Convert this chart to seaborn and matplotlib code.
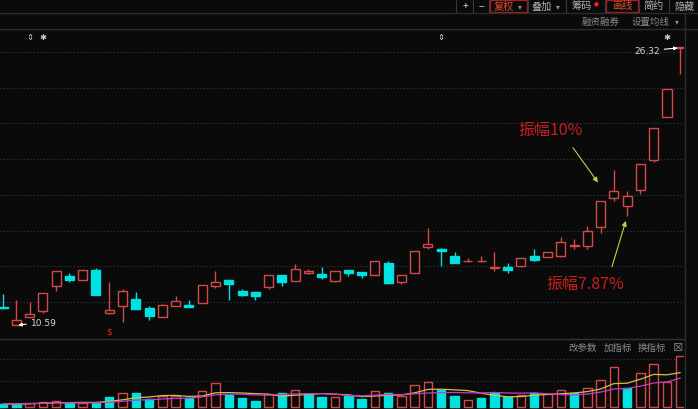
import matplotlib
matplotlib.use('Agg')
from matplotlib import pyplot as plt
from matplotlib.lines import Line2D
from matplotlib.patches import Rectangle
import matplotlib.transforms as mtransforms
import seaborn as sns
import numpy as np
import pandas as pd

# daily OHLC (price units)
opens = [11.64, 10.59, 11.04, 11.39, 12.81, 13.37, 13.15, 13.71, 11.27, 11.67,
         12.07, 11.56, 11.04, 11.67, 11.70, 11.84, 12.81, 13.15, 12.52, 12.46,
         12.75, 13.43, 13.09, 13.57, 13.49, 13.09, 13.71, 13.60, 13.43, 14.11,
         13.03, 13.54, 15.02, 14.88, 14.51, 14.20, 14.20, 13.85, 13.88, 13.94,
         14.51, 14.45, 14.51, 15.10, 15.08, 16.16, 17.80, 17.35, 18.26, 19.96,
         22.40, 26.32]
highs = [12.35, 12.01, 11.90, 12.41, 13.66, 13.54, 13.71, 13.83, 13.03, 12.63,
         12.46, 11.67, 11.78, 12.24, 12.01, 12.86, 13.66, 13.15, 12.63, 12.46,
         13.43, 13.43, 14.05, 13.77, 13.88, 13.66, 13.71, 13.60, 14.23, 14.23,
         13.43, 14.79, 16.10, 14.96, 14.74, 14.40, 14.51, 14.74, 14.11, 14.40,
         14.91, 14.74, 15.59, 15.47, 16.21, 17.63, 19.39, 18.20, 19.73, 21.78,
         23.99, 26.32]
lows = [11.50, 10.59, 11.04, 11.27, 12.52, 13.03, 13.15, 12.29, 11.22, 10.76,
        11.50, 10.87, 11.04, 11.67, 11.61, 11.84, 12.69, 12.01, 12.24, 12.01,
        12.63, 12.81, 13.09, 13.49, 13.20, 13.03, 13.37, 13.26, 13.43, 12.92,
        12.92, 13.54, 14.91, 13.94, 14.11, 14.17, 14.17, 13.66, 13.54, 13.88,
        14.23, 14.45, 14.45, 14.91, 14.91, 15.82, 17.63, 16.78, 18.03, 19.85,
        22.40, 24.84]
closes = [11.58, 10.87, 11.22, 12.41, 13.66, 13.15, 13.71, 12.29, 11.44, 12.52,
          11.50, 11.10, 11.73, 11.95, 11.64, 12.86, 13.03, 12.92, 12.29, 12.24,
          13.43, 13.03, 13.77, 13.63, 13.32, 13.66, 13.54, 13.43, 14.23, 12.98,
          13.43, 14.79, 15.19, 14.82, 14.11, 14.25, 14.23, 13.88, 13.71, 14.40,
          14.28, 14.74, 15.30, 15.16, 15.93, 17.63, 18.20, 17.92, 19.73, 21.78,
          23.99, 26.32]
volumes = [3, 3, 4, 5, 6, 4, 4, 4, 10, 14,
           14, 8, 11, 11, 9, 16, 24, 12, 9, 6,
           13, 14, 17, 13, 10, 10, 11, 8, 16, 14,
           11, 22, 25, 17, 11, 7, 9, 14, 10, 12,
           14, 13, 17, 14, 19, 27, 40, 19, 34, 43,
           25, 51]

toolbar = ['+', '−', '复权', '叠加', '筹码', '画线', '简约', '隐藏']
notes = ['振幅10%', '振幅7.87%']

BG = '#0a0a0a'
RED = '#d64848'
CYAN = '#00e2e2'
GRID = '#3a3a3a'
GRAY = '#8c8c8c'
W, H = 698, 410


def px(x, y):
    return x / W, 1 - y / H


def DrawCandles(ax, df):
    for _, r in df.iterrows():
        i = r['idx']
        top = max(r['open'], r['close'])
        bot = min(r['open'], r['close'])
        h = max(top - bot, 0.03)
        if r['up']:
            ax.vlines(i, top, r['high'], color=RED, lw=1, zorder=2)
            ax.vlines(i, r['low'], bot, color=RED, lw=1, zorder=2)
            ax.bar(i, h, bottom=bot, width=0.68, facecolor=BG, edgecolor=RED, lw=1, zorder=3)
        else:
            ax.vlines(i, r['low'], r['high'], color=CYAN, lw=1, zorder=2)
            ax.bar(i, h, bottom=bot, width=0.68, facecolor=CYAN, edgecolor=CYAN, lw=1, zorder=3)


def main():
    sns.set_style('dark')
    plt.rcParams['font.family'] = ['Noto Sans CJK SC', 'DejaVu Sans']
    plt.rcParams['axes.unicode_minus'] = False

    df = pd.DataFrame({'open': opens, 'high': highs, 'low': lows,
                       'close': closes, 'vol': volumes})
    df['idx'] = np.arange(len(df))
    prev = df['close'].shift(1)
    df['up'] = np.where(df['close'] > df['open'], True,
                        np.where(df['close'] < df['open'], False, df['close'] > prev))
    df['vol_up'] = df['close'] > prev
    df['ma5'] = df['vol'].rolling(5, min_periods=1).mean()
    df['ma10'] = df['vol'].rolling(10, min_periods=1).mean()

    fig = plt.figure(figsize=(W / 100, H / 100), dpi=100, facecolor=BG)
    ax = fig.add_axes([0, 70 / H, 684 / W, 310 / H], facecolor=BG)
    axv = fig.add_axes([0, 0, 684 / W, 70 / H], facecolor=BG)
    xlim = (-3 / 13.28, 681 / 13.28)

    # main panel
    for f in np.arange(0.0742, 0.99, 0.1153):
        ax.plot([0, 1], [1 - f, 1 - f], transform=ax.transAxes, color=GRID,
                lw=0.8, ls=(0, (1, 2)), zorder=1)
    DrawCandles(ax, df)
    ax.set_xlim(*xlim)
    ax.set_ylim(9.795, 27.40)

    # max / min labels
    imax = int(df['high'].idxmax())
    imin = int(df['low'].idxmin())
    ax.annotate('%.2f' % df['high'][imax], xy=(imax - 0.2, df['high'][imax]),
                xytext=(-13, -2), textcoords='offset points', ha='right', va='center',
                color='#d8d8d8', fontsize=6.5, family='DejaVu Sans',
                arrowprops=dict(arrowstyle='-|>', color='white', lw=0.8,
                                mutation_scale=5, shrinkA=1, shrinkB=0))
    ax.annotate('%.2f' % df['low'][imin], xy=(imin + 0.15, df['low'][imin]),
                xytext=(9, 2), textcoords='offset points', ha='left', va='center',
                color='#d8d8d8', fontsize=6.5, family='DejaVu Sans',
                arrowprops=dict(arrowstyle='-|>', color='white', lw=0.8,
                                mutation_scale=5, shrinkA=1, shrinkB=0))

    # amplitude notes
    ax.annotate('', xy=(46 - 1.2, df['high'][46] - 0.7), xytext=(-18, 25),
                textcoords='offset points',
                arrowprops=dict(arrowstyle='-|>', color='#cccc40', lw=0.8,
                                mutation_scale=7, shrinkA=0, shrinkB=0))
    ax.annotate(notes[0], xy=(46 - 1.2, df['high'][46] - 0.7), xytext=(-57, 38),
                textcoords='offset points', ha='left', va='center',
                color='#c81e1e', fontsize=11.5)
    ax.annotate('', xy=(47 - 0.1, df['low'][47] - 0.28), xytext=(-10, -33),
                textcoords='offset points',
                arrowprops=dict(arrowstyle='-|>', color='#cccc40', lw=0.8,
                                mutation_scale=7, shrinkA=0, shrinkB=0))
    ax.annotate(notes[1], xy=(47 - 0.1, df['low'][47] - 0.28), xytext=(-57, -45),
                textcoords='offset points', ha='left', va='center',
                color='#c81e1e', fontsize=11.5)

    # event markers
    tr = mtransforms.blended_transform_factory(ax.transData, ax.transAxes)
    for i, m in [(2, '⇕'), (3, '✱'), (33, '⇕'), (50, '✱')]:
        ax.text(i, 0.977, m, transform=tr, ha='center', va='center',
                color='#d0d0d0', fontsize=6, family='DejaVu Sans')
    ax.text(8, 0.026, '$', transform=tr, ha='center', va='center',
            color='#e02020', fontsize=6.5, family='DejaVu Sans')

    # volume panel
    for v in [26, 48]:
        axv.axhline(v, color=GRID, lw=0.8, ls=(0, (1, 2)), zorder=1)
    for _, r in df.iterrows():
        if r['vol_up']:
            axv.bar(r['idx'], r['vol'], width=0.64, facecolor=BG, edgecolor=RED, lw=1, zorder=3)
        else:
            axv.bar(r['idx'], r['vol'], width=0.64, facecolor=CYAN, edgecolor=CYAN, lw=1, zorder=3)
    sns.lineplot(x=df['idx'], y=df['ma5'], ax=axv, color='#d2bf48', lw=0.9, zorder=4)
    sns.lineplot(x=df['idx'], y=df['ma10'], ax=axv, color='#c23ccc', lw=0.9, zorder=4)
    axv.set_xlim(*xlim)
    axv.set_ylim(-2, 68)

    for a in (ax, axv):
        a.set_xticks([])
        a.set_yticks([])
        a.set_xlabel('')
        a.set_ylabel('')
        a.grid(False)
        for s in a.spines.values():
            s.set_visible(False)

    # frame lines
    fig.add_artist(Line2D([0, 1], [1 - 13.5 / H] * 2, color='#2c2c2c', lw=1))
    fig.add_artist(Line2D([0, 1], [1 - 30 / H] * 2, color='#2c2c2c', lw=1))
    fig.add_artist(Line2D([0, 684 / W], [70 / H] * 2, color='#333333', lw=1))
    fig.add_artist(Line2D([684.5 / W] * 2, [0, 1 - 13.5 / H], color='#2c2c2c', lw=1))

    # toolbar
    seps = [456, 473, 489, 528, 566, 605, 639, 669]
    for x in seps:
        fig.add_artist(Line2D([x / W] * 2, [1 - 0.5 / H, 1 - 13 / H], color='#3a3a3a', lw=0.8))
    for x0, x1 in [(490, 527), (606, 638)]:
        fig.add_artist(Rectangle(px(x0, 12.5), (x1 - x0) / W, 12 / H, fill=False,
                                 edgecolor='#a82020', lw=0.9))
    tcol = ['#d0d0d0', '#d0d0d0', '#e0502c', '#b4b4b4', '#b4b4b4', '#e0502c', '#b4b4b4', '#b4b4b4']
    tx = [465, 481, 504, 542, 582, 622, 654, 684]
    for t, c, x in zip(toolbar, tcol, tx):
        fig.text(*px(x, 6.5), t, color=c, fontsize=7.3, ha='center', va='center')
    for x in [520, 558]:
        fig.text(*px(x, 6.5), '▾', color='#909090', fontsize=5.5, ha='center', va='center',
                 family='DejaVu Sans')
    fig.text(*px(596, 3.5), '●', color='#ff2020', fontsize=4, ha='center', va='center',
             family='DejaVu Sans')
    fig.text(*px(600, 22), '融资融券', color=GRAY, fontsize=6.8, ha='center', va='center')
    fig.text(*px(651, 22), '设置均线', color=GRAY, fontsize=6.8, ha='center', va='center')
    fig.text(*px(677, 22), '▾', color=GRAY, fontsize=5.5, ha='center', va='center',
             family='DejaVu Sans')

    # indicator buttons
    for t, x in [('改参数', 583), ('加指标', 618), ('换指标', 652)]:
        fig.text(*px(x, 348), t, color=GRAY, fontsize=6.8, ha='center', va='center')
    fig.text(*px(678, 348), '⊠', color='#707070', fontsize=9, ha='center', va='center',
             family='DejaVu Sans')

    plt.savefig('out.png', dpi=100, facecolor=BG)


if __name__ == '__main__':
    main()
